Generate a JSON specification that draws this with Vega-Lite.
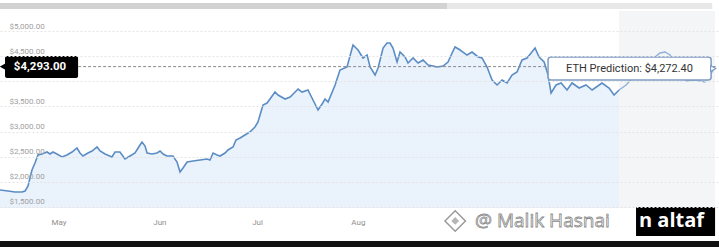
{
  "$schema": "https://vega.github.io/schema/vega-lite/v6.json",
  "width": 719,
  "height": 247,
  "autosize": "none",
  "padding": 0,
  "background": "white",
  "config": {
    "view": {"stroke": null},
    "font": "Roboto",
    "axis": {"labelOverlap": false, "labelFlush": false, "labelBound": false}
  },
  "datasets": {
    "eth": [
      {"date": "2025-04-13T00:00:00", "price": 1835, "series": "actual"},
      {"date": "2025-04-15T11:00:00", "price": 1815, "series": "actual"},
      {"date": "2025-04-17T15:00:00", "price": 1795, "series": "actual"},
      {"date": "2025-04-19T18:00:00", "price": 1795, "series": "actual"},
      {"date": "2025-04-20T17:00:00", "price": 1815, "series": "actual"},
      {"date": "2025-04-21T15:00:00", "price": 1915, "series": "actual"},
      {"date": "2025-04-22T05:00:00", "price": 2074, "series": "actual"},
      {"date": "2025-04-22T20:00:00", "price": 2234, "series": "actual"},
      {"date": "2025-04-23T18:00:00", "price": 2373, "series": "actual"},
      {"date": "2025-04-24T16:00:00", "price": 2532, "series": "actual"},
      {"date": "2025-04-25T22:00:00", "price": 2552, "series": "actual"},
      {"date": "2025-04-27T11:00:00", "price": 2592, "series": "actual"},
      {"date": "2025-04-28T09:00:00", "price": 2552, "series": "actual"},
      {"date": "2025-04-29T07:00:00", "price": 2592, "series": "actual"},
      {"date": "2025-04-30T12:00:00", "price": 2552, "series": "actual"},
      {"date": "2025-05-02T01:00:00", "price": 2493, "series": "actual"},
      {"date": "2025-05-03T14:00:00", "price": 2532, "series": "actual"},
      {"date": "2025-05-05T03:00:00", "price": 2592, "series": "actual"},
      {"date": "2025-05-06T16:00:00", "price": 2672, "series": "actual"},
      {"date": "2025-05-07T14:00:00", "price": 2572, "series": "actual"},
      {"date": "2025-05-08T12:00:00", "price": 2512, "series": "actual"},
      {"date": "2025-05-10T01:00:00", "price": 2572, "series": "actual"},
      {"date": "2025-05-11T07:00:00", "price": 2612, "series": "actual"},
      {"date": "2025-05-12T20:00:00", "price": 2692, "series": "actual"},
      {"date": "2025-05-13T18:00:00", "price": 2612, "series": "actual"},
      {"date": "2025-05-15T07:00:00", "price": 2552, "series": "actual"},
      {"date": "2025-05-17T10:00:00", "price": 2493, "series": "actual"},
      {"date": "2025-05-18T08:00:00", "price": 2592, "series": "actual"},
      {"date": "2025-05-19T21:00:00", "price": 2592, "series": "actual"},
      {"date": "2025-05-21T10:00:00", "price": 2453, "series": "actual"},
      {"date": "2025-05-22T23:00:00", "price": 2512, "series": "actual"},
      {"date": "2025-05-24T12:00:00", "price": 2572, "series": "actual"},
      {"date": "2025-05-26T01:00:00", "price": 2732, "series": "actual"},
      {"date": "2025-05-26T16:00:00", "price": 2791, "series": "actual"},
      {"date": "2025-05-27T14:00:00", "price": 2712, "series": "actual"},
      {"date": "2025-05-28T05:00:00", "price": 2572, "series": "actual"},
      {"date": "2025-05-29T18:00:00", "price": 2552, "series": "actual"},
      {"date": "2025-05-31T06:00:00", "price": 2572, "series": "actual"},
      {"date": "2025-06-01T05:00:00", "price": 2612, "series": "actual"},
      {"date": "2025-06-02T03:00:00", "price": 2552, "series": "actual"},
      {"date": "2025-06-03T08:00:00", "price": 2512, "series": "actual"},
      {"date": "2025-06-05T04:00:00", "price": 2512, "series": "actual"},
      {"date": "2025-06-06T10:00:00", "price": 2393, "series": "actual"},
      {"date": "2025-06-07T08:00:00", "price": 2194, "series": "actual"},
      {"date": "2025-06-08T06:00:00", "price": 2273, "series": "actual"},
      {"date": "2025-06-09T12:00:00", "price": 2393, "series": "actual"},
      {"date": "2025-06-11T08:00:00", "price": 2413, "series": "actual"},
      {"date": "2025-06-13T12:00:00", "price": 2433, "series": "actual"},
      {"date": "2025-06-15T15:00:00", "price": 2453, "series": "actual"},
      {"date": "2025-06-16T13:00:00", "price": 2433, "series": "actual"},
      {"date": "2025-06-17T12:00:00", "price": 2572, "series": "actual"},
      {"date": "2025-06-18T17:00:00", "price": 2532, "series": "actual"},
      {"date": "2025-06-19T15:00:00", "price": 2512, "series": "actual"},
      {"date": "2025-06-21T04:00:00", "price": 2572, "series": "actual"},
      {"date": "2025-06-22T02:00:00", "price": 2632, "series": "actual"},
      {"date": "2025-06-23T15:00:00", "price": 2692, "series": "actual"},
      {"date": "2025-06-24T13:00:00", "price": 2831, "series": "actual"},
      {"date": "2025-06-25T19:00:00", "price": 2871, "series": "actual"},
      {"date": "2025-06-27T07:00:00", "price": 2931, "series": "actual"},
      {"date": "2025-06-28T20:00:00", "price": 2991, "series": "actual"},
      {"date": "2025-06-30T09:00:00", "price": 3090, "series": "actual"},
      {"date": "2025-07-01T07:00:00", "price": 3190, "series": "actual"},
      {"date": "2025-07-02T20:00:00", "price": 3528, "series": "actual"},
      {"date": "2025-07-04T02:00:00", "price": 3568, "series": "actual"},
      {"date": "2025-07-06T13:00:00", "price": 3787, "series": "actual"},
      {"date": "2025-07-07T11:00:00", "price": 3728, "series": "actual"},
      {"date": "2025-07-09T15:00:00", "price": 3648, "series": "actual"},
      {"date": "2025-07-11T04:00:00", "price": 3688, "series": "actual"},
      {"date": "2025-07-13T15:00:00", "price": 3847, "series": "actual"},
      {"date": "2025-07-14T20:00:00", "price": 3787, "series": "actual"},
      {"date": "2025-07-16T16:00:00", "price": 3827, "series": "actual"},
      {"date": "2025-07-18T05:00:00", "price": 3628, "series": "actual"},
      {"date": "2025-07-19T18:00:00", "price": 3429, "series": "actual"},
      {"date": "2025-07-21T00:00:00", "price": 3548, "series": "actual"},
      {"date": "2025-07-21T22:00:00", "price": 3648, "series": "actual"},
      {"date": "2025-07-22T20:00:00", "price": 3588, "series": "actual"},
      {"date": "2025-07-25T00:00:00", "price": 3927, "series": "actual"},
      {"date": "2025-07-26T12:00:00", "price": 4226, "series": "actual"},
      {"date": "2025-07-28T16:00:00", "price": 4285, "series": "actual"},
      {"date": "2025-07-30T12:00:00", "price": 4724, "series": "actual"},
      {"date": "2025-08-01T01:00:00", "price": 4624, "series": "actual"},
      {"date": "2025-08-02T14:00:00", "price": 4465, "series": "actual"},
      {"date": "2025-08-03T20:00:00", "price": 4524, "series": "actual"},
      {"date": "2025-08-04T18:00:00", "price": 4285, "series": "actual"},
      {"date": "2025-08-06T07:00:00", "price": 4126, "series": "actual"},
      {"date": "2025-08-07T05:00:00", "price": 4265, "series": "actual"},
      {"date": "2025-08-08T18:00:00", "price": 4664, "series": "actual"},
      {"date": "2025-08-09T23:00:00", "price": 4763, "series": "actual"},
      {"date": "2025-08-10T21:00:00", "price": 4763, "series": "actual"},
      {"date": "2025-08-11T19:00:00", "price": 4664, "series": "actual"},
      {"date": "2025-08-13T01:00:00", "price": 4385, "series": "actual"},
      {"date": "2025-08-13T23:00:00", "price": 4584, "series": "actual"},
      {"date": "2025-08-15T12:00:00", "price": 4485, "series": "actual"},
      {"date": "2025-08-16T10:00:00", "price": 4365, "series": "actual"},
      {"date": "2025-08-17T23:00:00", "price": 4465, "series": "actual"},
      {"date": "2025-08-19T12:00:00", "price": 4365, "series": "actual"},
      {"date": "2025-08-21T01:00:00", "price": 4425, "series": "actual"},
      {"date": "2025-08-22T14:00:00", "price": 4325, "series": "actual"},
      {"date": "2025-08-24T03:00:00", "price": 4305, "series": "actual"},
      {"date": "2025-08-25T08:00:00", "price": 4285, "series": "actual"},
      {"date": "2025-08-27T04:00:00", "price": 4305, "series": "actual"},
      {"date": "2025-08-28T17:00:00", "price": 4385, "series": "actual"},
      {"date": "2025-08-29T23:00:00", "price": 4564, "series": "actual"},
      {"date": "2025-08-30T21:00:00", "price": 4684, "series": "actual"},
      {"date": "2025-09-01T10:00:00", "price": 4624, "series": "actual"},
      {"date": "2025-09-03T13:00:00", "price": 4524, "series": "actual"},
      {"date": "2025-09-05T02:00:00", "price": 4584, "series": "actual"},
      {"date": "2025-09-06T23:00:00", "price": 4485, "series": "actual"},
      {"date": "2025-09-08T04:00:00", "price": 4465, "series": "actual"},
      {"date": "2025-09-09T17:00:00", "price": 4285, "series": "actual"},
      {"date": "2025-09-11T06:00:00", "price": 4026, "series": "actual"},
      {"date": "2025-09-12T19:00:00", "price": 3927, "series": "actual"},
      {"date": "2025-09-14T08:00:00", "price": 4026, "series": "actual"},
      {"date": "2025-09-15T21:00:00", "price": 3967, "series": "actual"},
      {"date": "2025-09-17T09:00:00", "price": 4126, "series": "actual"},
      {"date": "2025-09-18T22:00:00", "price": 4186, "series": "actual"},
      {"date": "2025-09-20T11:00:00", "price": 4425, "series": "actual"},
      {"date": "2025-09-22T00:00:00", "price": 4465, "series": "actual"},
      {"date": "2025-09-23T06:00:00", "price": 4564, "series": "actual"},
      {"date": "2025-09-24T11:00:00", "price": 4664, "series": "actual"},
      {"date": "2025-09-25T17:00:00", "price": 4485, "series": "actual"},
      {"date": "2025-09-27T06:00:00", "price": 4385, "series": "actual"},
      {"date": "2025-09-28T11:00:00", "price": 4126, "series": "actual"},
      {"date": "2025-09-29T09:00:00", "price": 3767, "series": "actual"},
      {"date": "2025-09-30T22:00:00", "price": 3927, "series": "actual"},
      {"date": "2025-10-02T11:00:00", "price": 3967, "series": "actual"},
      {"date": "2025-10-04T07:00:00", "price": 3827, "series": "actual"},
      {"date": "2025-10-05T20:00:00", "price": 3967, "series": "actual"},
      {"date": "2025-10-08T00:00:00", "price": 3867, "series": "actual"},
      {"date": "2025-10-10T03:00:00", "price": 3927, "series": "actual"},
      {"date": "2025-10-12T00:00:00", "price": 3827, "series": "actual"},
      {"date": "2025-10-15T01:00:00", "price": 3967, "series": "actual"},
      {"date": "2025-10-17T05:00:00", "price": 3867, "series": "actual"},
      {"date": "2025-10-18T18:00:00", "price": 3728, "series": "actual"},
      {"date": "2025-10-20T07:00:00", "price": 3827, "series": "actual"},
      {"date": "2025-10-20T07:00:00", "price": 3827, "series": "forecast"},
      {"date": "2025-10-22T11:00:00", "price": 3927, "series": "forecast"},
      {"date": "2025-10-25T05:00:00", "price": 4126, "series": "forecast"},
      {"date": "2025-10-28T07:00:00", "price": 4325, "series": "forecast"},
      {"date": "2025-10-31T08:00:00", "price": 4485, "series": "forecast"},
      {"date": "2025-11-01T21:00:00", "price": 4564, "series": "forecast"},
      {"date": "2025-11-03T10:00:00", "price": 4584, "series": "forecast"},
      {"date": "2025-11-04T23:00:00", "price": 4524, "series": "forecast"},
      {"date": "2025-11-06T12:00:00", "price": 4365, "series": "forecast"},
      {"date": "2025-11-08T01:00:00", "price": 4186, "series": "forecast"},
      {"date": "2025-11-09T21:00:00", "price": 4006, "series": "forecast"},
      {"date": "2025-11-12T16:00:00", "price": 4026, "series": "forecast"},
      {"date": "2025-11-15T17:00:00", "price": 3987, "series": "forecast"},
      {"date": "2025-11-18T19:00:00", "price": 4272.4, "series": "forecast"}
    ]
  },
  "data": {"name": "eth"},
  "layer": [
    {
      "transform": [{"filter": "datum.series == 'actual'"}],
      "mark": {"type": "area", "color": "#eaf2fc", "opacity": 1},
      "encoding": {
        "x": {
          "field": "date", "type": "temporal",
          "scale": {"domain": [{"year": 2025, "month": 4, "date": 13}, {"year": 2025, "month": 11, "date": 20}]},
          "axis": {
            "title": null, "orient": "bottom", "offset": -30, "domain": false, "ticks": false, "grid": false,
            "tickCount": 20,
            "values": [{"year": 2025, "month": 5, "date": 1}, {"year": 2025, "month": 6, "date": 1}, {"year": 2025, "month": 7, "date": 1}, {"year": 2025, "month": 8, "date": 1}],
            "format": "%b", "labelAlign": "center", "labelBaseline": "top", "labelPadding": 1,
            "labelFontSize": 8, "labelColor": "#8f8f8f", "labelFlush": false, "labelOverlap": false
          }
        },
        "y": {
          "field": "price", "type": "quantitative",
          "scale": {"domain": [700, 5620], "nice": false, "zero": false},
          "axis": {
            "title": null, "domain": false, "ticks": false, "tickSize": 0, "zindex": 1,
            "tickCount": 20,
            "values": [1500, 2000, 2500, 3000, 3500, 4000, 4500, 5000],
            "format": "$,.2f",
            "labelExpr": "datum.value == 4000 ? '' : datum.label",
            "labelAlign": "left", "labelPadding": -9, "labelBaseline": "alphabetic", "labelOffset": -3,
            "labelFontSize": 8, "labelColor": "#a0a0a0", "labelOverlap": false, "labelFlush": false,
            "grid": true, "gridColor": "#e4e4e4", "gridDash": [2, 2], "gridWidth": 1
          }
        },
        "y2": {"datum": 1477}
      }
    },
    {
      "data": {"values": [{}]},
      "mark": {"type": "rect", "color": "#f4f5f6"},
      "encoding": {
        "x": {"datum": {"year": 2025, "month": 10, "date": 20, "hours": 7}, "type": "temporal"},
        "x2": {"datum": {"year": 2025, "month": 11, "date": 18, "hours": 19}},
        "y": {"datum": 5400, "type": "quantitative"},
        "y2": {"datum": 1477}
      }
    },
    {
      "data": {"values": [{}]},
      "mark": {"type": "rect", "color": "#d2d2d2"},
      "encoding": {
        "x": {"datum": {"year": 2025, "month": 4, "date": 13}, "type": "temporal"},
        "x2": {"datum": {"year": 2025, "month": 8, "date": 28, "hours": 10}},
        "y": {"datum": 5560, "type": "quantitative"},
        "y2": {"datum": 5441}
      }
    },
    {
      "data": {"values": [{}]},
      "mark": {"type": "rect", "color": "#e8e8e8"},
      "encoding": {
        "x": {"datum": {"year": 2025, "month": 8, "date": 28, "hours": 10}, "type": "temporal"},
        "x2": {"datum": {"year": 2025, "month": 11, "date": 17, "hours": 22}},
        "y": {"datum": 5560, "type": "quantitative"},
        "y2": {"datum": 5441}
      }
    },
    {
      "transform": [{"filter": "datum.series == 'forecast'"}],
      "mark": {"type": "line", "color": "#8eb0d8", "strokeWidth": 1.4},
      "encoding": {
        "x": {"field": "date", "type": "temporal"},
        "y": {"field": "price", "type": "quantitative"}
      }
    },
    {
      "transform": [{"filter": "datum.series == 'actual'"}],
      "mark": {"type": "line", "color": "#5b8dc4", "strokeWidth": 1.6},
      "encoding": {
        "x": {"field": "date", "type": "temporal"},
        "y": {"field": "price", "type": "quantitative"}
      }
    },
    {
      "data": {"values": [{}]},
      "mark": {"type": "rule", "color": "#8a8a8a", "strokeDash": [3, 2], "strokeWidth": 1},
      "encoding": {
        "x": {"datum": {"year": 2025, "month": 5, "date": 7}, "type": "temporal"},
        "x2": {"datum": {"year": 2025, "month": 11, "date": 19}},
        "y": {"datum": 4293, "type": "quantitative"}
      }
    },
    {
      "data": {"values": [{}]},
      "mark": {"type": "rect", "color": "#000000", "cornerRadius": 2},
      "encoding": {
        "x": {"datum": {"year": 2025, "month": 4, "date": 14, "hours": 13}, "type": "temporal"},
        "x2": {"datum": {"year": 2025, "month": 5, "date": 7}},
        "y": {"datum": 4504, "type": "quantitative"},
        "y2": {"datum": 4066}
      }
    },
    {
      "data": {"values": [{}]},
      "mark": {"type": "point", "shape": "triangle-left", "filled": true, "color": "#000000", "size": 40, "opacity": 1},
      "encoding": {
        "x": {"datum": {"year": 2025, "month": 4, "date": 13, "hours": 19}, "type": "temporal"},
        "y": {"datum": 4293, "type": "quantitative"}
      }
    },
    {
      "data": {"values": [{"label": "$4,293.00"}]},
      "mark": {"type": "text", "color": "#ffffff", "fontSize": 11.5, "fontWeight": "bold", "align": "center", "baseline": "middle", "font": "Roboto"},
      "encoding": {
        "x": {"datum": {"year": 2025, "month": 4, "date": 25, "hours": 7}, "type": "temporal"},
        "y": {"datum": 4293, "type": "quantitative"},
        "text": {"field": "label"}
      }
    },
    {
      "data": {"values": [{}]},
      "mark": {"type": "rect", "fill": "#ffffff", "stroke": "#7d9dc4", "strokeWidth": 1.5, "cornerRadius": 3},
      "encoding": {
        "x": {"datum": {"year": 2025, "month": 9, "date": 28, "hours": 11}, "type": "temporal"},
        "x2": {"datum": {"year": 2025, "month": 11, "date": 17, "hours": 14}},
        "y": {"datum": 4485, "type": "quantitative"},
        "y2": {"datum": 4026}
      }
    },
    {
      "data": {"values": [{}]},
      "mark": {"type": "point", "shape": "triangle-right", "filled": true, "fill": "#ffffff", "stroke": "#7d9dc4", "strokeWidth": 1.2, "size": 35, "opacity": 1},
      "encoding": {
        "x": {"datum": {"year": 2025, "month": 11, "date": 18, "hours": 5}, "type": "temporal"},
        "y": {"datum": 4255, "type": "quantitative"}
      }
    },
    {
      "data": {"values": [{"label": "ETH Prediction: $4,272.40"}]},
      "mark": {"type": "text", "color": "#333333", "fontSize": 11, "align": "center", "baseline": "middle", "font": "Roboto"},
      "encoding": {
        "x": {"datum": {"year": 2025, "month": 10, "date": 23, "hours": 12}, "type": "temporal"},
        "y": {"datum": 4255, "type": "quantitative"},
        "text": {"field": "label"}
      }
    },
    {
      "data": {"values": [{}]},
      "mark": {"type": "point", "shape": "diamond", "filled": true, "fill": "#ffffff", "stroke": "#9a9a9a", "strokeWidth": 1.5, "size": 420, "opacity": 1},
      "encoding": {
        "x": {"datum": {"year": 2025, "month": 8, "date": 30, "hours": 22}, "type": "temporal"},
        "y": {"datum": 1218, "type": "quantitative"}
      }
    },
    {
      "data": {"values": [{}]},
      "mark": {"type": "point", "shape": "diamond", "filled": true, "fill": "#b5b5b5", "strokeWidth": 0, "size": 60, "opacity": 1},
      "encoding": {
        "x": {"datum": {"year": 2025, "month": 8, "date": 30, "hours": 22}, "type": "temporal"},
        "y": {"datum": 1218, "type": "quantitative"}
      }
    },
    {
      "data": {"values": [{"label": "@ Malik Hasnai"}]},
      "mark": {"type": "text", "fill": "#ffffff", "stroke": "#8a8a8a", "strokeWidth": 0.8, "fontSize": 19, "align": "left", "baseline": "middle", "font": "Open Sans"},
      "encoding": {
        "x": {"datum": {"year": 2025, "month": 9, "date": 6}, "type": "temporal"},
        "y": {"datum": 1218, "type": "quantitative"},
        "text": {"field": "label"}
      }
    },
    {
      "data": {"values": [{}]},
      "mark": {"type": "rect", "color": "#000000"},
      "encoding": {
        "x": {"datum": {"year": 2025, "month": 10, "date": 25, "hours": 12}, "type": "temporal"},
        "x2": {"datum": {"year": 2025, "month": 11, "date": 18, "hours": 19}},
        "y": {"datum": 1497, "type": "quantitative"},
        "y2": {"datum": 919}
      }
    },
    {
      "data": {"values": [{"label": "n altaf"}]},
      "mark": {"type": "text", "color": "#ffffff", "fontSize": 20, "fontWeight": "bold", "align": "left", "baseline": "middle", "font": "Open Sans"},
      "encoding": {
        "x": {"datum": {"year": 2025, "month": 10, "date": 26, "hours": 10}, "type": "temporal"},
        "y": {"datum": 1218, "type": "quantitative"},
        "text": {"field": "label"}
      }
    },
    {
      "data": {"values": [{}]},
      "mark": {"type": "rect", "color": "#111111"},
      "encoding": {
        "x": {"datum": {"year": 2025, "month": 4, "date": 13}, "type": "temporal"},
        "x2": {"datum": {"year": 2025, "month": 11, "date": 20}},
        "y": {"datum": 820, "type": "quantitative"},
        "y2": {"datum": 700}
      }
    }
  ]
}
